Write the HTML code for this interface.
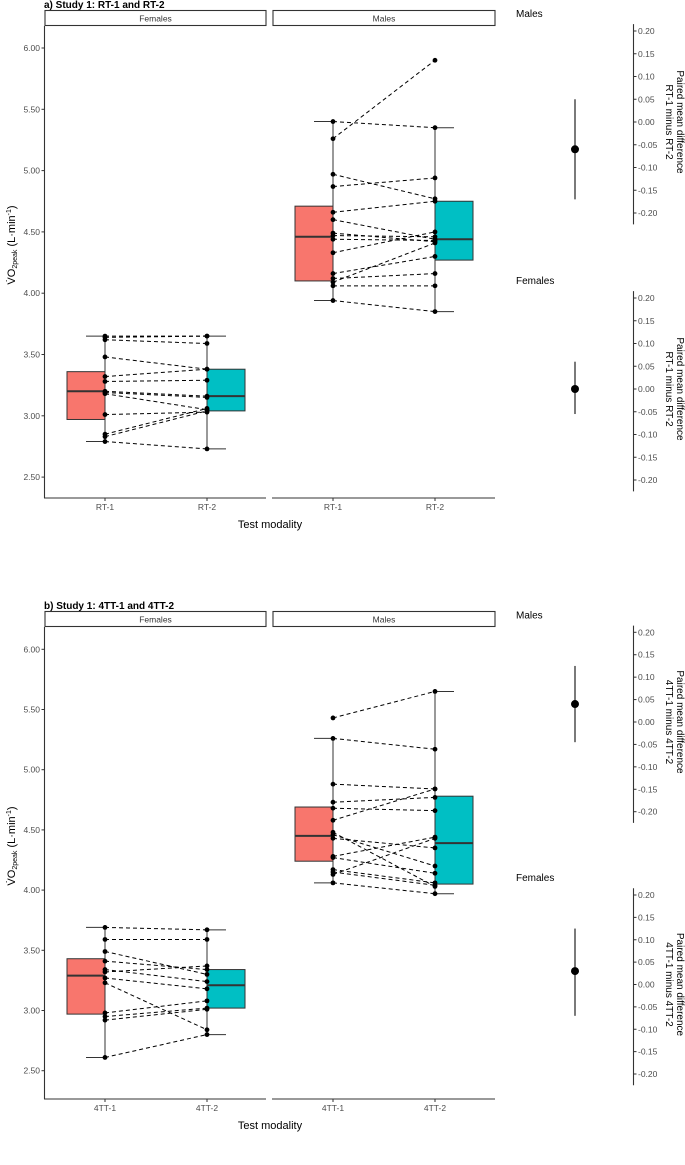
<!DOCTYPE html>
<html><head><meta charset="utf-8">
<style>
body{margin:0;background:#fff;}
svg{display:block;font-family:"Liberation Sans",sans-serif;}
</style></head>
<body>
<svg id="chart" width="685" height="1165" viewBox="0 0 685 1165" xmlns="http://www.w3.org/2000/svg"></svg>
<script>
// ---- Data ----
const yTicks = [2.5, 3.0, 3.5, 4.0, 4.5, 5.0, 5.5, 6.0];
const diffTicks = [0.20, 0.15, 0.10, 0.05, 0.00, -0.05, -0.10, -0.15, -0.20];
const sexes = ["Females", "Males"];
const labelsA = ["RT-1", "RT-2"];
const labelsB = ["4TT-1", "4TT-2"];
// Panel a: paired values [test1, test2]
const aFemT1 = [3.65, 3.64, 3.62, 3.48, 3.32, 3.28, 3.20, 3.19, 3.18, 3.01, 2.85, 2.83, 2.79];
const aFemT2 = [3.65, 3.65, 3.59, 3.38, 3.38, 3.29, 3.16, 3.15, 3.05, 3.03, 3.06, 3.04, 2.73];
const aMalT1 = [5.26, 5.40, 4.97, 4.87, 4.66, 4.60, 4.49, 4.47, 4.44, 4.33, 4.16, 4.12, 4.09, 4.06, 3.94];
const aMalT2 = [5.90, 5.35, 4.77, 4.94, 4.75, 4.44, 4.42, 4.46, 4.43, 4.50, 4.30, 4.16, 4.41, 4.06, 3.85];
// boxes: [low whisker, q1, median, q3, high whisker]
const aFemBox1 = [2.79, 2.97, 3.20, 3.36, 3.65];
const aFemBox2 = [2.73, 3.04, 3.16, 3.38, 3.65];
const aMalBox1 = [3.94, 4.10, 4.46, 4.71, 5.40];
const aMalBox2 = [3.85, 4.27, 4.44, 4.75, 5.35];
// paired mean differences [estimate, upper, lower]
const aMalDiff = [-0.06, 0.05, -0.17];
const aFemDiff = [0.00, 0.06, -0.055];
// Panel b
const bFemT1 = [3.69, 3.59, 3.49, 3.41, 3.34, 3.32, 3.27, 3.23, 2.98, 2.95, 2.92, 2.61];
const bFemT2 = [3.67, 3.59, 3.30, 3.34, 3.24, 3.37, 3.18, 2.84, 3.08, 3.02, 3.01, 2.80];
const bMalT1 = [5.43, 5.26, 4.88, 4.73, 4.68, 4.58, 4.48, 4.46, 4.43, 4.28, 4.27, 4.17, 4.15, 4.13, 4.06];
const bMalT2 = [5.65, 5.17, 4.84, 4.77, 4.66, 4.84, 4.03, 4.20, 4.35, 4.44, 4.14, 4.06, 4.04, 4.43, 3.97];
const bFemBox1 = [2.61, 2.97, 3.29, 3.43, 3.69];
const bFemBox2 = [2.80, 3.02, 3.21, 3.34, 3.67];
const bMalBox1 = [4.06, 4.24, 4.45, 4.69, 5.26];
const bMalBox2 = [3.97, 4.05, 4.39, 4.78, 5.65];
const bMalDiff = [0.04, 0.125, -0.045];
const bFemDiff = [0.03, 0.125, -0.07];

const NS = "http://www.w3.org/2000/svg";
const svg = document.getElementById("chart");
function el(tag, attrs, parent, text){
  const e = document.createElementNS(NS, tag);
  for (const k in attrs) e.setAttribute(k, attrs[k]);
  if (text !== undefined) e.textContent = text;
  (parent || svg).appendChild(e);
  return e;
}

function drawPanel(oy, y6, unit, title, labels, data, diffs, diffY){
  const g = el("g", {}, svg);
  
  
  const Y = v => y6 + (6 - v) * unit;
  const t = el("text", {x:44, y:oy+8, "font-size":10, "font-weight":"bold"}, g, title);
  
  
  const axisY = oy + 498;
  const ya = el("line", {x1:44.5, x2:44.5, y1:oy+26, y2:axisY, stroke:"#333", "stroke-width":1.1}, g);
  
  
  yTicks.forEach(v => {
    el("line", {x1:41.5, x2:44.5, y1:Y(v), y2:Y(v), stroke:"#333"}, g);
    const tl = el("text", {x:40, y:Y(v)+3, "font-size":8.5, fill:"#4d4d4d", "text-anchor":"end"}, g, v.toFixed(2));
    
    
  });
  const yt = el("text", {transform:`translate(15,${oy+245}) rotate(-90)`, "font-size":11, "text-anchor":"middle"}, g);
  
  
  el("tspan", {}, yt, "V\u0307O");
  el("tspan", {"font-size":7, dy:2}, yt, "2peak");
  el("tspan", {dy:-2}, yt, " (L\u00b7min");
  el("tspan", {"font-size":7, dy:-4}, yt, "-1");
  el("tspan", {dy:4}, yt, ")");
  const xt = el("text", {x:270, y:oy+528, "font-size":11, "text-anchor":"middle"}, g, "Test modality");
  
  

  const facets = [{x0:45, x1:266, xs:[105,207]}, {x0:273, x1:495, xs:[333,435]}];
  facets.forEach((f, fi) => {
    const d = data[fi];
    const s = el("rect", {x:f.x0, y:oy+10.5, width:f.x1-f.x0, height:15, fill:"#fff", stroke:"#333", "stroke-width":1.1}, g);
    
    
    el("text", {x:(f.x0+f.x1)/2, y:oy+21.5, "font-size":8.5, fill:"#333", "text-anchor":"middle"}, g, sexes[fi]);
    const xa = el("line", {x1:f.x0-1, x2:f.x1, y1:axisY, y2:axisY, stroke:"#333", "stroke-width":1.1}, g);
    
    
    f.xs.forEach((x, i) => {
      el("line", {x1:x, x2:x, y1:axisY, y2:axisY+3, stroke:"#333"}, g);
      const l = el("text", {x:x, y:axisY+12, "font-size":8.5, fill:"#4d4d4d", "text-anchor":"middle"}, g, labels[i]);
      
      
    });
    [d.box1, d.box2].forEach((b, i) => {
      const x = f.xs[i];
      const bx = i === 0 ? x - 38 : x;
      const fill = i === 0 ? "#F8766D" : "#00BFC4";
      el("line", {x1:x, x2:x, y1:Y(b[4]), y2:Y(b[0]), stroke:"#333", "stroke-width":1}, g);
      const wx0 = i === 0 ? x - 19 : x, wx1 = i === 0 ? x : x + 19;
      el("line", {x1:wx0, x2:wx1, y1:Y(b[4]), y2:Y(b[4]), stroke:"#333"}, g);
      el("line", {x1:wx0, x2:wx1, y1:Y(b[0]), y2:Y(b[0]), stroke:"#333"}, g);
      const r = el("rect", {x:bx, y:Y(b[3]), width:38, height:Y(b[1])-Y(b[3]), fill:fill, stroke:"#333", "stroke-width":1}, g);
      
      
      el("line", {x1:bx, x2:bx+38, y1:Y(b[2]), y2:Y(b[2]), stroke:"#333", "stroke-width":2}, g);
    });
    d.t1.forEach((v, k) => {
      const ln = el("line", {x1:f.xs[0], x2:f.xs[1], y1:Y(v), y2:Y(d.t2[k]), stroke:"#000", "stroke-width":1, "stroke-dasharray":"4,3"}, g);
      
      
    });
    d.t1.forEach((v, k) => {
      const p1 = el("circle", {cx:f.xs[0], cy:Y(v), r:2.4, fill:"#000"}, g);
      
      
      const p2 = el("circle", {cx:f.xs[1], cy:Y(d.t2[k]), r:2.4, fill:"#000"}, g);
      
      
    });
  });

  const names = ["Males", "Females"];
  diffs.forEach((df, i) => {
    const top = oy + diffY[i][0], bot = oy + diffY[i][1];
    const DY = v => top + (0.20 - v) / 0.40 * (bot - top);
    const lab = el("text", {x:516, y:DY(0.20)-14, "font-size":10}, g, names[i]);
    
    
    const ax = el("line", {x1:633.5, x2:633.5, y1:DY(0.215), y2:DY(-0.225), stroke:"#333", "stroke-width":1.1}, g);
    
    
    diffTicks.forEach(v => {
      el("line", {x1:633.5, x2:636.5, y1:DY(v), y2:DY(v), stroke:"#333"}, g);
      const tl = el("text", {x:638, y:DY(v)+3, "font-size":8.5, fill:"#4d4d4d"}, g, v.toFixed(2));
      
      
    });
    const ci = el("line", {x1:575, x2:575, y1:DY(df[1]), y2:DY(df[2]), stroke:"#333", "stroke-width":1.3}, g);
    
    
    const pt = el("circle", {cx:575, cy:DY(df[0]), r:4, fill:"#000"}, g);
    
    
    const cy = (top + bot) / 2;
    const tt = el("text", {transform:`translate(677,${cy}) rotate(90)`, "font-size":10, "text-anchor":"middle"}, g);
    
    
    el("tspan", {x:0, dy:0}, tt, "Paired mean difference");
    el("tspan", {x:0, dy:11}, tt, labels[0] + " minus " + labels[1]);
  });
}

drawPanel(0, 48, 122.6, "a) Study 1: RT-1 and RT-2", labelsA,
  [{t1:aFemT1, t2:aFemT2, box1:aFemBox1, box2:aFemBox2},
   {t1:aMalT1, t2:aMalT2, box1:aMalBox1, box2:aMalBox2}],
  [aMalDiff, aFemDiff], [[31, 213], [298, 480]]);
drawPanel(601, 649.3, 120.4, "b) Study 1: 4TT-1 and 4TT-2", labelsB,
  [{t1:bFemT1, t2:bFemT2, box1:bFemBox1, box2:bFemBox2},
   {t1:bMalT1, t2:bMalT2, box1:bMalBox1, box2:bMalBox2}],
  [bMalDiff, bFemDiff], [[31.3, 210.7], [294, 473]]);
</script>
</body></html>
